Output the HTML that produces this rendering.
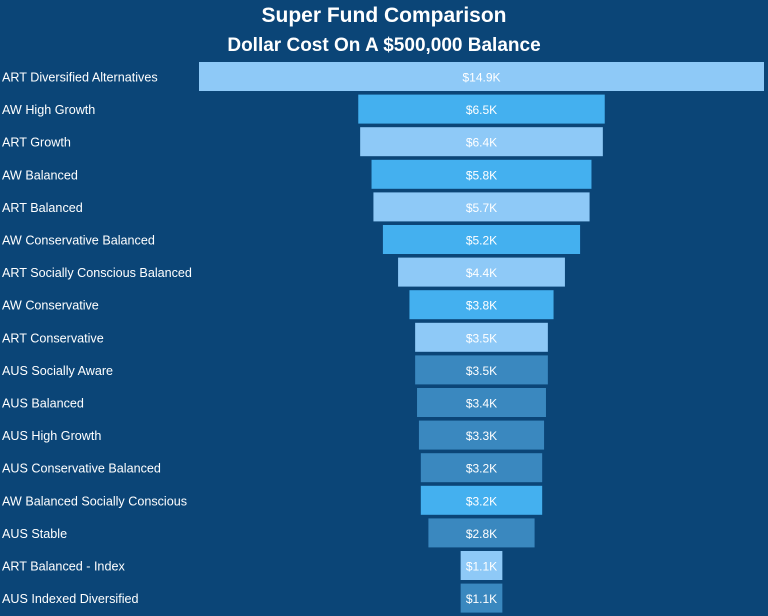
<!DOCTYPE html>
<html><head><meta charset="utf-8"><style>
html,body{margin:0;padding:0;background:#0b4577;}
svg{display:block;font-family:"Liberation Sans",sans-serif;}
</style></head><body>
<svg id="chart" width="768" height="616">
<rect width="768" height="616" fill="#0b4577"/>
<text x="384" y="22" text-anchor="middle" fill="#fff" font-size="21" font-weight="bold">Super Fund Comparison</text>
<text x="384" y="51" text-anchor="middle" fill="#fff" font-size="19" font-weight="bold">Dollar Cost On A $500,000 Balance</text>
<g id="bars"></g>
</svg>
<script>
const categories=["ART Diversified Alternatives","AW High Growth","ART Growth","AW Balanced","ART Balanced","AW Conservative Balanced","ART Socially Conscious Balanced","AW Conservative","ART Conservative","AUS Socially Aware","AUS Balanced","AUS High Growth","AUS Conservative Balanced","AW Balanced Socially Conscious","AUS Stable","ART Balanced - Index","AUS Indexed Diversified"];
const values=[14.9,6.5,6.4,5.8,5.7,5.2,4.4,3.8,3.5,3.5,3.4,3.3,3.2,3.2,2.8,1.1,1.1];
const labels=["$14.9K","$6.5K","$6.4K","$5.8K","$5.7K","$5.2K","$4.4K","$3.8K","$3.5K","$3.5K","$3.4K","$3.3K","$3.2K","$3.2K","$2.8K","$1.1K","$1.1K"];
const NS="http://www.w3.org/2000/svg";
const g=document.getElementById('bars');
const maxV=Math.max(...values);
const cx=481.5, maxW=565, top0=62, pitch=32.6, bh=29;
const w=v=>v/maxV*maxW;
const y=i=>top0+i*pitch;
function color(c){if(c.startsWith("ART"))return"#8ec9f7";if(c.startsWith("AW"))return"#44b0ef";return"#3a88bf";}
categories.forEach((c,i)=>{
  const t=document.createElementNS(NS,'text');
  
  
  t.setAttribute('x',2);t.setAttribute('y',y(i)+bh/2+5);
  t.setAttribute('fill','#fff');t.setAttribute('font-size','12.6');
  t.textContent=c;g.appendChild(t);
  const r=document.createElementNS(NS,'rect');
  
  
  const bw=w(values[i]);
  r.setAttribute('x',cx-bw/2);r.setAttribute('y',y(i));
  r.setAttribute('width',bw);r.setAttribute('height',bh);
  r.setAttribute('fill',color(c));g.appendChild(r);
  const l=document.createElementNS(NS,'text');
  
  
  l.setAttribute('x',cx);l.setAttribute('y',y(i)+bh/2+5);
  l.setAttribute('text-anchor','middle');l.setAttribute('fill','#fff');l.setAttribute('font-size','12');
  l.textContent=labels[i];g.appendChild(l);
});
</script>
</body></html>
